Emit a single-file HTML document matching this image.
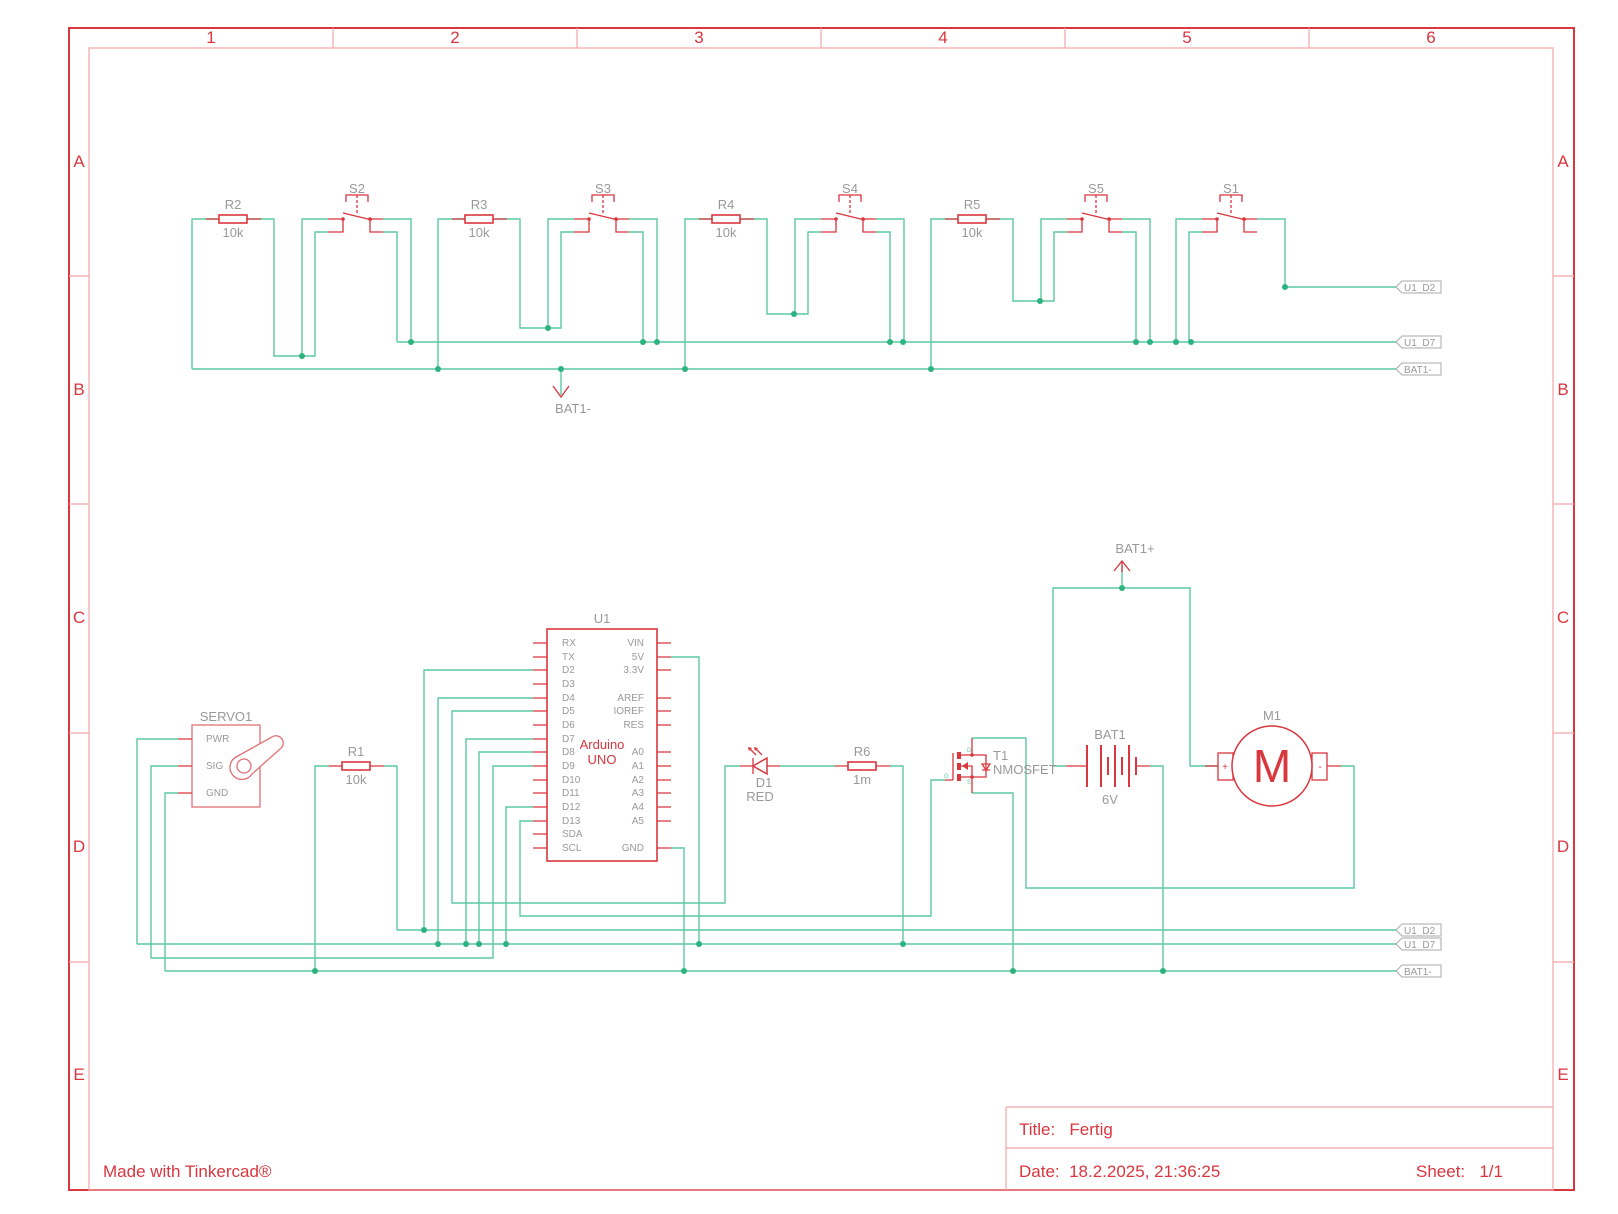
<!DOCTYPE html>
<html><head><meta charset="utf-8"><style>
html,body{margin:0;padding:0;background:#fff;width:1618px;height:1214px;overflow:hidden}
svg{display:block}
text{font-family:"Liberation Sans",sans-serif}
.w{fill:none;stroke:#5cc9a0;stroke-width:1.4}
.r{fill:none;stroke:#d9363e;stroke-width:1.3}
.rb{fill:#fff;stroke:#d9363e;stroke-width:1.6}
.d{fill:#2db37f}
.g{fill:#999;font-size:13px}
.p{fill:#999;font-size:10px}
.f{fill:#d9363e;font-size:17px}
.nl{fill:#fff;stroke:#aaa;stroke-width:1}
</style></head><body>
<svg width="1618" height="1214" viewBox="0 0 1618 1214" xmlns="http://www.w3.org/2000/svg">
<rect x="69" y="28" width="1505" height="1162" fill="none" stroke="#d9363e" stroke-width="2"/>
<rect x="89" y="48" width="1464" height="1142" fill="none" stroke="#f2a5a8" stroke-width="1.2"/>
<g stroke="#f2a5a8" stroke-width="1.2">
<line x1="333" y1="28" x2="333" y2="48"/><line x1="577" y1="28" x2="577" y2="48"/><line x1="821" y1="28" x2="821" y2="48"/><line x1="1065" y1="28" x2="1065" y2="48"/><line x1="1309" y1="28" x2="1309" y2="48"/>
<line x1="69" y1="276" x2="89" y2="276"/><line x1="69" y1="504" x2="89" y2="504"/><line x1="69" y1="733" x2="89" y2="733"/><line x1="69" y1="962" x2="89" y2="962"/>
<line x1="1553" y1="276" x2="1574" y2="276"/><line x1="1553" y1="504" x2="1574" y2="504"/><line x1="1553" y1="733" x2="1574" y2="733"/><line x1="1553" y1="962" x2="1574" y2="962"/>
<line x1="1006" y1="1107" x2="1553" y2="1107"/><line x1="1006" y1="1148" x2="1553" y2="1148"/><line x1="1006" y1="1107" x2="1006" y2="1190"/>
</g>
<g class="f" text-anchor="middle">
<text x="211" y="43">1</text><text x="455" y="43">2</text><text x="699" y="43">3</text><text x="943" y="43">4</text><text x="1187" y="43">5</text><text x="1431" y="43">6</text>
<text x="79" y="167">A</text><text x="79" y="395">B</text><text x="79" y="623">C</text><text x="79" y="852">D</text><text x="79" y="1080">E</text>
<text x="1563" y="167">A</text><text x="1563" y="395">B</text><text x="1563" y="623">C</text><text x="1563" y="852">D</text><text x="1563" y="1080">E</text>
</g>
<text class="f" x="1019" y="1135">Title:&#160;&#160; Fertig</text>
<text class="f" x="1019" y="1177">Date:&#160; 18.2.2025, 21:36:25</text>
<text class="f" x="1416" y="1177">Sheet:&#160;&#160; 1/1</text>
<text class="f" x="103" y="1177">Made with Tinkercad®</text>

<path class="w" d="M397,342 H1396 M192,369 H1396"/>
<path class="w" d="M561,369 V395"/>
<path class="r" d="M553,386 L561,397 L569,386"/>
<text class="g" x="573" y="413" text-anchor="middle">BAT1-</text>

<g transform="translate(192,0)">
<path class="w" d="M0,369 V219 H82 V356 H123 V232 H136 M110,356 V219 H136 M191,219 H219 V342 M191,232 H205 V342"/>
<path class="r" d="M14,219 H27 M55,219 H69 M136,219 H151 V232 H136 M178,219 V232 H191 M178,219 H191 M151,213 L180,220 M154,202 V195 H176 V202"/>
<path class="r" d="M165,195 V213" stroke-dasharray="3,2"/>
<rect class="rb" x="27" y="215" width="28" height="8"/>
<circle cx="151" cy="219" r="1.8" fill="#d9363e"/><circle cx="178" cy="219" r="1.8" fill="#d9363e"/>
<text class="g" x="41" y="209" text-anchor="middle">R2</text><text class="g" x="41" y="237" text-anchor="middle">10k</text><text class="g" x="165" y="193" text-anchor="middle">S2</text>
</g>
<g transform="translate(438,0)">
<path class="w" d="M0,369 V219 H82 V328 H123 V232 H136 M110,328 V219 H136 M191,219 H219 V342 M191,232 H205 V342"/>
<path class="r" d="M14,219 H27 M55,219 H69 M136,219 H151 V232 H136 M178,219 V232 H191 M178,219 H191 M151,213 L180,220 M154,202 V195 H176 V202"/>
<path class="r" d="M165,195 V213" stroke-dasharray="3,2"/>
<rect class="rb" x="27" y="215" width="28" height="8"/>
<circle cx="151" cy="219" r="1.8" fill="#d9363e"/><circle cx="178" cy="219" r="1.8" fill="#d9363e"/>
<text class="g" x="41" y="209" text-anchor="middle">R3</text><text class="g" x="41" y="237" text-anchor="middle">10k</text><text class="g" x="165" y="193" text-anchor="middle">S3</text>
</g>
<g transform="translate(685,0)">
<path class="w" d="M0,369 V219 H82 V314 H123 V232 H136 M110,314 V219 H136 M191,219 H219 V342 M191,232 H205 V342"/>
<path class="r" d="M14,219 H27 M55,219 H69 M136,219 H151 V232 H136 M178,219 V232 H191 M178,219 H191 M151,213 L180,220 M154,202 V195 H176 V202"/>
<path class="r" d="M165,195 V213" stroke-dasharray="3,2"/>
<rect class="rb" x="27" y="215" width="28" height="8"/>
<circle cx="151" cy="219" r="1.8" fill="#d9363e"/><circle cx="178" cy="219" r="1.8" fill="#d9363e"/>
<text class="g" x="41" y="209" text-anchor="middle">R4</text><text class="g" x="41" y="237" text-anchor="middle">10k</text><text class="g" x="165" y="193" text-anchor="middle">S4</text>
</g>
<g transform="translate(931,0)">
<path class="w" d="M0,369 V219 H82 V301 H123 V232 H136 M110,301 V219 H136 M191,219 H219 V342 M191,232 H205 V342"/>
<path class="r" d="M14,219 H27 M55,219 H69 M136,219 H151 V232 H136 M178,219 V232 H191 M178,219 H191 M151,213 L180,220 M154,202 V195 H176 V202"/>
<path class="r" d="M165,195 V213" stroke-dasharray="3,2"/>
<rect class="rb" x="27" y="215" width="28" height="8"/>
<circle cx="151" cy="219" r="1.8" fill="#d9363e"/><circle cx="178" cy="219" r="1.8" fill="#d9363e"/>
<text class="g" x="41" y="209" text-anchor="middle">R5</text><text class="g" x="41" y="237" text-anchor="middle">10k</text><text class="g" x="165" y="193" text-anchor="middle">S5</text>
</g>
<g transform="translate(1066,0)">
<path class="w" d="M110,342 V219 H136 M123,342 V232 H136 M191,219 H219 V287 H330"/>
<path class="r" d="M136,219 H151 V232 H136 M178,219 V232 H191 M178,219 H191 M151,213 L180,220 M154,202 V195 H176 V202"/>
<path class="r" d="M165,195 V213" stroke-dasharray="3,2"/>
<circle cx="151" cy="219" r="1.8" fill="#d9363e"/><circle cx="178" cy="219" r="1.8" fill="#d9363e"/>
<text class="g" x="165" y="193" text-anchor="middle">S1</text>
</g>
<g class="d">
<circle cx="302" cy="356" r="3"/><circle cx="548" cy="328" r="3"/><circle cx="794" cy="314" r="3"/><circle cx="1040" cy="301" r="3"/>
<circle cx="411" cy="342" r="3"/><circle cx="643" cy="342" r="3"/><circle cx="657" cy="342" r="3"/><circle cx="890" cy="342" r="3"/><circle cx="903" cy="342" r="3"/><circle cx="1136" cy="342" r="3"/><circle cx="1150" cy="342" r="3"/><circle cx="1176" cy="342" r="3"/><circle cx="1191" cy="342" r="3"/>
<circle cx="438" cy="369" r="3"/><circle cx="561" cy="369" r="3"/><circle cx="685" cy="369" r="3"/><circle cx="931" cy="369" r="3"/><circle cx="1285" cy="287" r="3"/>
</g>
<g>
<path class="nl" d="M1396,287 L1402,281 H1441 V293 H1402 Z"/><text class="p" x="1404" y="291">U1_D2</text>
<path class="nl" d="M1396,342 L1402,336 H1441 V348 H1402 Z"/><text class="p" x="1404" y="346">U1_D7</text>
<path class="nl" d="M1396,369 L1402,363 H1441 V375 H1402 Z"/><text class="p" x="1404" y="373">BAT1-</text>
<path class="nl" d="M1396,930 L1402,924 H1441 V936 H1402 Z"/><text class="p" x="1404" y="934">U1_D2</text>
<path class="nl" d="M1396,944 L1402,938 H1441 V950 H1402 Z"/><text class="p" x="1404" y="948">U1_D7</text>
<path class="nl" d="M1396,971 L1402,965 H1441 V977 H1402 Z"/><text class="p" x="1404" y="975">BAT1-</text>
</g>

<path class="w" d="M397,930 H1396 M137,944 H1396 M165,971 H1396
M178,739 H137 V944 M178,766 H151 V958 H493 V766 H533 M178,793 H165 V971
M329,766 H315 V971 M384,766 H397 V930
M533,670 H424 V930 M533,698 H438 V944 M533,711 H452 V903 H725 V766 H740
M533,739 H466 V944 M533,752 H479 V944 M533,807 H506 V944 M533,821 H520 V916 H931 V780 H945
M671,657 H699 V944 M671,848 H684 V971
M780,766 H835 M890,766 H903 V944
M972,738 H1026 V888 H1354 V766 H1341
M972,793 H1013 V971
M1066,766 H1053 V588 H1190 V766 H1218 M1150,766 H1163 V971 M1122,588 V565"/>
<g class="d">
<circle cx="424" cy="930" r="3"/><circle cx="438" cy="944" r="3"/><circle cx="466" cy="944" r="3"/><circle cx="479" cy="944" r="3"/><circle cx="506" cy="944" r="3"/><circle cx="699" cy="944" r="3"/><circle cx="903" cy="944" r="3"/>
<circle cx="315" cy="971" r="3"/><circle cx="684" cy="971" r="3"/><circle cx="1013" cy="971" r="3"/><circle cx="1163" cy="971" r="3"/><circle cx="1122" cy="588" r="3"/>
</g>
<path class="r" d="M1122,562 V572 M1114,571 L1122,561 L1130,571"/>
<text class="g" x="1135" y="553" text-anchor="middle">BAT1+</text>

<rect x="192" y="725" width="68" height="82" fill="none" stroke="#e07075" stroke-width="1.3"/>
<path class="r" d="M178,739 H192 M178,766 H192 M178,793 H192"/>
<path d="M236,757 L272,737 A7,7 0 0 1 280,749 L252,774 A12,12 0 1 1 236,757 Z" fill="#fff" stroke="#e07075" stroke-width="1.3"/>
<circle cx="244" cy="766" r="7" fill="#fff" stroke="#e07075" stroke-width="1.3"/>
<text class="g" x="226" y="721" text-anchor="middle">SERVO1</text>
<text class="p" x="206" y="742">PWR</text><text class="p" x="206" y="769">SIG</text><text class="p" x="206" y="796">GND</text>
<path class="r" d="M329,766 H342 M370,766 H384"/><rect class="rb" x="342" y="762" width="28" height="8"/>
<text class="g" x="356" y="756" text-anchor="middle">R1</text><text class="g" x="356" y="784" text-anchor="middle">10k</text>

<rect x="547" y="629" width="110" height="232" fill="#fff" stroke="#d9363e" stroke-width="1.6"/>
<path class="r" d="M533,643H547M533,657H547M533,670H547M533,684H547M533,698H547M533,711H547M533,725H547M533,739H547M533,752H547M533,766H547M533,780H547M533,793H547M533,807H547M533,821H547M533,834H547M533,848H547
M657,643H671M657,657H671M657,670H671M657,698H671M657,711H671M657,725H671M657,752H671M657,766H671M657,780H671M657,793H671M657,807H671M657,821H671M657,848H671"/>
<g class="p">
<text x="562" y="646">RX</text><text x="562" y="660">TX</text><text x="562" y="673">D2</text><text x="562" y="687">D3</text><text x="562" y="701">D4</text><text x="562" y="714">D5</text><text x="562" y="728">D6</text><text x="562" y="742">D7</text><text x="562" y="755">D8</text><text x="562" y="769">D9</text><text x="562" y="783">D10</text><text x="562" y="796">D11</text><text x="562" y="810">D12</text><text x="562" y="824">D13</text><text x="562" y="837">SDA</text><text x="562" y="851">SCL</text>
</g>
<g class="p" text-anchor="end">
<text x="644" y="646">VIN</text><text x="644" y="660">5V</text><text x="644" y="673">3.3V</text><text x="644" y="701">AREF</text><text x="644" y="714">IOREF</text><text x="644" y="728">RES</text><text x="644" y="755">A0</text><text x="644" y="769">A1</text><text x="644" y="783">A2</text><text x="644" y="796">A3</text><text x="644" y="810">A4</text><text x="644" y="824">A5</text><text x="644" y="851">GND</text>
</g>
<text x="602" y="749" text-anchor="middle" fill="#d9363e" font-size="13">Arduino</text>
<text x="602" y="764" text-anchor="middle" fill="#d9363e" font-size="13">UNO</text>
<text class="g" x="602" y="623" text-anchor="middle">U1</text>

<path class="r" d="M740,766 H753 M767,766 H780 M753,758 V774"/>
<path d="M753,766 L767,758 V774 Z" fill="#fff" stroke="#d9363e" stroke-width="1.5"/>
<path class="r" d="M756,755 L750,749 M762,755 L756,749"/>
<path d="M748,747 l4,1 l-3,3z M754,747 l4,1 l-3,3z" fill="#d9363e"/>
<text class="g" x="764" y="787" text-anchor="middle">D1</text><text class="g" x="760" y="801" text-anchor="middle">RED</text>
<path class="r" d="M835,766 H848 M876,766 H890"/><rect class="rb" x="848" y="762" width="28" height="8"/>
<text class="g" x="862" y="756" text-anchor="middle">R6</text><text class="g" x="862" y="784" text-anchor="middle">1m</text>

<path class="r" d="M945,780 H953 M953,753 V780 M972,738 V755 H961 M961,766 H972 V793 M972,777 H961 M972,755 H986 V777 H972"/>
<path d="M957,752 h4 v7 h-4z M957,763 h4 v7 h-4z M957,774 h4 v7 h-4z" fill="#d9363e"/>
<path d="M962,766 l6,-4 v8z" fill="#d9363e"/>
<path class="r" d="M982,770 h8 M986,770 l-4,-6 h8 z"/>
<circle cx="972" cy="755" r="1.8" fill="#d9363e"/><circle cx="972" cy="777" r="1.8" fill="#d9363e"/>
<text x="967" y="752" font-size="6" fill="#5cc9a0">D</text><text x="967" y="784" font-size="6" fill="#5cc9a0">S</text><text x="944" y="778" font-size="6" fill="#5cc9a0">G</text>
<text class="g" x="993" y="760">T1</text><text class="g" x="993" y="774">NMOSFET</text>

<path class="r" d="M1066,766 H1087 M1136,766 H1150"/>
<g stroke="#d9363e" stroke-width="2">
<line x1="1087" y1="745" x2="1087" y2="787"/><line x1="1101" y1="745" x2="1101" y2="787"/><line x1="1108" y1="757" x2="1108" y2="775"/><line x1="1115" y1="745" x2="1115" y2="787"/><line x1="1122" y1="757" x2="1122" y2="775"/><line x1="1129" y1="745" x2="1129" y2="787"/><line x1="1136" y1="757" x2="1136" y2="775"/>
</g>
<text class="g" x="1110" y="739" text-anchor="middle">BAT1</text><text class="g" x="1110" y="804" text-anchor="middle">6V</text>

<path class="r" d="M1205,766 H1218 M1327,766 H1341"/>
<rect x="1218" y="753" width="15" height="27" fill="none" stroke="#d9363e" stroke-width="1.3"/>
<rect x="1312" y="753" width="15" height="27" fill="none" stroke="#d9363e" stroke-width="1.3"/>
<circle cx="1272" cy="766" r="40" fill="#fff" stroke="#d9363e" stroke-width="1.5"/>
<text x="1225" y="770" font-size="10" fill="#d9363e" text-anchor="middle">+</text>
<text x="1320" y="770" font-size="10" fill="#d9363e" text-anchor="middle">-</text>
<text x="1272" y="782" font-size="46" fill="#d9363e" text-anchor="middle">M</text>
<text class="g" x="1272" y="720" text-anchor="middle">M1</text>
</svg>
</body></html>
